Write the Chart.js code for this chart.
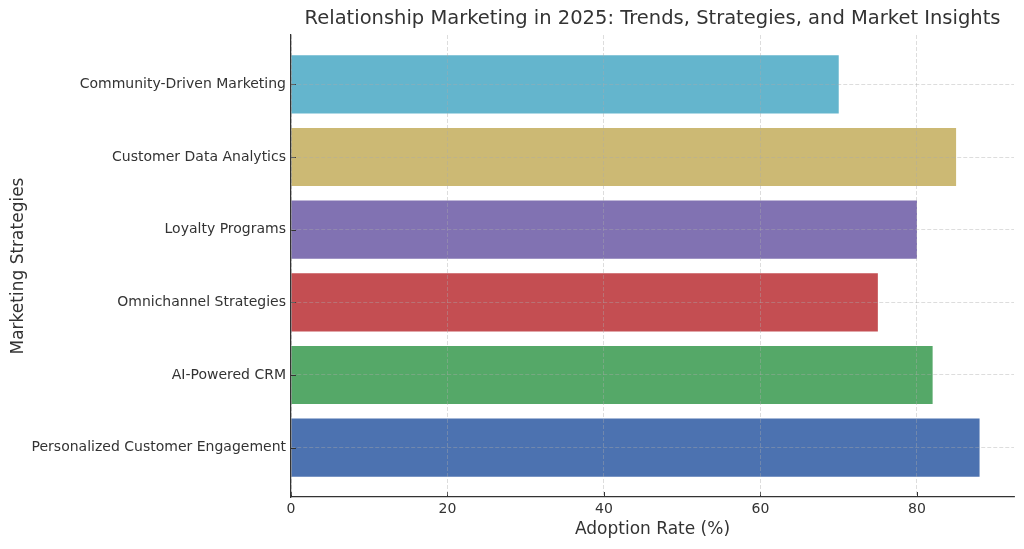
<!DOCTYPE html>
<html>
<head>
<meta charset="utf-8">
<script src="https://cdn.jsdelivr.net/npm/chart.js@4"></script>
<style>
  html, body { margin: 0; padding: 0; background: #fff; }
  #wrap { width: 1024px; height: 549px; }
</style>
</head>
<body>
<div id="wrap"><canvas id="c" width="1024" height="549"></canvas></div>
<script>
const titleText = "Relationship Marketing in 2025: Trends, Strategies, and Market Insights";
const categories = ["Personalized Customer Engagement", "AI-Powered CRM", "Omnichannel Strategies", "Loyalty Programs", "Customer Data Analytics", "Community-Driven Marketing"];
const adoptionRates = [88, 82, 75, 80, 85, 70];
const barColors = ["#4c72b0", "#55a868", "#c44e52", "#8172b2", "#ccb974", "#64b5cd"];
const xTickValues = [0, 20, 40, 60, 80];

const FONT = "'DejaVu Sans', sans-serif";
const TEXT = "#333333";

const points = categories.map((c, i) => ({ x: adoptionRates[i], y: i }));

const titlePlugin = {
  id: 'centerTitle',
  afterDraw(chart) {
    const { ctx, chartArea } = chart;
    ctx.save();
    ctx.font = "19.5px " + FONT;
    ctx.fillStyle = TEXT;
    ctx.textAlign = 'center';
    ctx.textBaseline = 'middle';
    ctx.fillText(titleText, (chartArea.left + chartArea.right) / 2, 19);
    ctx.restore();
  }
};

const inwardTicks = {
  id: 'inwardTicks',
  afterDatasetsDraw(chart) {
    const { ctx, chartArea, scales } = chart;
    ctx.save();
    ctx.strokeStyle = TEXT;
    ctx.lineWidth = 1;
    scales.x.ticks.forEach(t => {
      const px = Math.round(scales.x.getPixelForValue(t.value)) + 0.5;
      ctx.beginPath();
      ctx.moveTo(px, chartArea.bottom);
      ctx.lineTo(px, chartArea.bottom - 5);
      ctx.stroke();
    });
    scales.y.ticks.forEach(t => {
      if (!Number.isInteger(t.value)) return;
      const py = Math.round(scales.y.getPixelForValue(t.value)) + 0.5;
      ctx.beginPath();
      ctx.moveTo(chartArea.left, py);
      ctx.lineTo(chartArea.left + 5, py);
      ctx.stroke();
    });
    ctx.restore();
  }
};

new Chart(document.getElementById('c'), {
  type: 'bar',
  data: {
    datasets: [{
      data: points,
      backgroundColor: barColors,
      borderWidth: 0,
      barPercentage: 0.8,
      categoryPercentage: 1.0
    }]
  },
  options: {
    indexAxis: 'y',
    responsive: false,
    animation: false,
    layout: { padding: { top: 35, right: 10, left: 0, bottom: 0 } },
    plugins: { legend: { display: false }, tooltip: { enabled: false }, title: { display: false } },
    scales: {
      x: {
        type: 'linear',
        min: 0,
        max: 92.4,
        afterBuildTicks(scale) { scale.ticks = xTickValues.map(v => ({ value: v })); },
        ticks: { font: { family: FONT, size: 14 }, color: TEXT, padding: 4, maxRotation: 0, includeBounds: false },
        grid: { color: 'rgba(170,170,170,0.5)', lineWidth: 0.8, drawTicks: false, z: 1 },
        border: { color: TEXT, width: 1.25, dash: [4, 2], z: 2 },
        title: { display: true, text: 'Adoption Rate (%)', font: { family: FONT, size: 17 }, color: TEXT, padding: { top: 0, bottom: 9 } },
        afterFit(scale) { scale.height = 52; }
      },
      y: {
        type: 'linear',
        offset: false,
        min: -0.68,
        max: 5.68,
        afterBuildTicks(scale) { scale.ticks = categories.map((c, i) => ({ value: i })); },
        ticks: {
          font: { family: FONT, size: 14 }, color: TEXT, padding: 5,
          callback: (v) => categories[v]
        },
        grid: { offset: false, color: 'rgba(170,170,170,0.5)', lineWidth: 0.8, drawTicks: false, z: 1 },
        border: { color: TEXT, width: 1.25, dash: [4, 2], z: 2 },
        title: { display: true, text: 'Marketing Strategies', font: { family: FONT, size: 17 }, color: TEXT, padding: { top: 8, bottom: 0 } },
        afterFit(scale) { scale.width = 291; }
      }
    }
  },
  plugins: [titlePlugin, inwardTicks]
});
</script>
</body>
</html>
